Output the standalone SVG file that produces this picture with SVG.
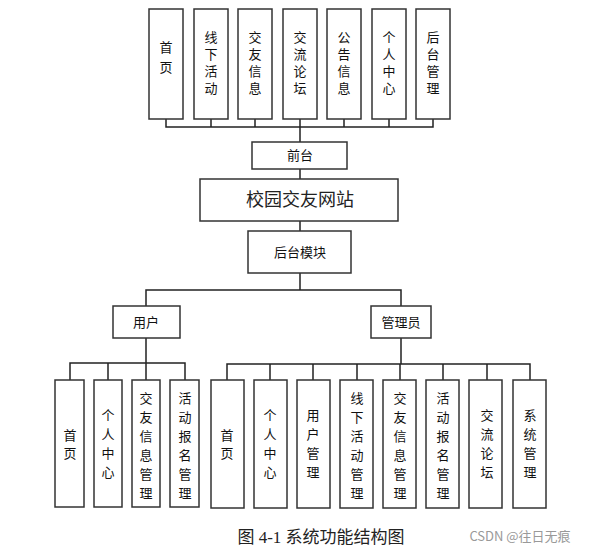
<svg xmlns="http://www.w3.org/2000/svg" width="611" height="551" viewBox="0 0 611 551">
<style>
.b{fill:#fff;stroke:#333;stroke-width:1.5}
.t{font-family:"Noto Sans CJK SC",sans-serif;font-size:13px;fill:#111;text-anchor:middle}
.c{stroke:#222;stroke-width:1.5;fill:none}
</style>
<rect width="611" height="551" fill="#fff"/>
<g id="connectors" class="c">
<path d="M166 119V127H433V119M211 119V127M255 119V127M300 119V142M344 119V127M389 119V127"/>
<path d="M300 169V179M300 221V231M300 273V290M146 306V290H401V306"/>
<path d="M146 338V363M70 380V363H185V380M108 363V380M146 363V380"/>
<path d="M401 338V364M227 380V364H530V380M270 364V380M313 364V380M357 364V380M400 364V380M443 364V380M487 364V380"/>
</g>
<g id="top">
<rect class="b" x="149" y="9" width="34" height="110"/><text class="t" x="166" y="52">首</text><text class="t" x="166" y="72">页</text>
<rect class="b" x="194" y="9" width="34" height="110"/><text class="t" x="211" y="42">线</text><text class="t" x="211" y="59">下</text><text class="t" x="211" y="76">活</text><text class="t" x="211" y="93">动</text>
<rect class="b" x="238" y="9" width="34" height="110"/><text class="t" x="255" y="42">交</text><text class="t" x="255" y="59">友</text><text class="t" x="255" y="76">信</text><text class="t" x="255" y="93">息</text>
<rect class="b" x="283" y="9" width="34" height="110"/><text class="t" x="300" y="42">交</text><text class="t" x="300" y="59">流</text><text class="t" x="300" y="76">论</text><text class="t" x="300" y="93">坛</text>
<rect class="b" x="327" y="9" width="34" height="110"/><text class="t" x="344" y="42">公</text><text class="t" x="344" y="59">告</text><text class="t" x="344" y="76">信</text><text class="t" x="344" y="93">息</text>
<rect class="b" x="372" y="9" width="34" height="110"/><text class="t" x="389" y="42">个</text><text class="t" x="389" y="59">人</text><text class="t" x="389" y="76">中</text><text class="t" x="389" y="93">心</text>
<rect class="b" x="416" y="9" width="34" height="110"/><text class="t" x="433" y="42">后</text><text class="t" x="433" y="59">台</text><text class="t" x="433" y="76">管</text><text class="t" x="433" y="93">理</text>
</g>
<g id="qiantai"><rect class="b" x="252" y="142" width="95" height="27"/><text class="t" x="300" y="160">前台</text></g>
<g id="site"><rect class="b" x="200" y="179" width="198" height="42"/><text x="300" y="206" text-anchor="middle" font-family="Liberation Serif,'Noto Sans CJK SC',serif" font-size="18" fill="#222">校园交友网站</text></g>
<g id="houtai"><rect class="b" x="248" y="231" width="103" height="42"/><text class="t" x="300" y="257">后台模块</text></g>
<g id="user"><rect class="b" x="113" y="306" width="67" height="32"/><text class="t" x="146" y="327">用户</text></g>
<g id="admin"><rect class="b" x="371" y="306" width="60" height="32"/><text class="t" x="401" y="327">管理员</text></g>
<g id="userkids">
<rect class="b" x="55" y="380" width="29" height="127"/><text class="t" x="70" y="440">首</text><text class="t" x="70" y="458">页</text>
<rect class="b" x="94" y="380" width="28" height="127"/><text class="t" x="108" y="420">个</text><text class="t" x="108" y="439">人</text><text class="t" x="108" y="458">中</text><text class="t" x="108" y="477">心</text>
<rect class="b" x="132" y="380" width="28" height="127"/><text class="t" x="146" y="403">交</text><text class="t" x="146" y="422">友</text><text class="t" x="146" y="441">信</text><text class="t" x="146" y="460">息</text><text class="t" x="146" y="479">管</text><text class="t" x="146" y="498">理</text>
<rect class="b" x="170" y="380" width="29" height="127"/><text class="t" x="185" y="403">活</text><text class="t" x="185" y="422">动</text><text class="t" x="185" y="441">报</text><text class="t" x="185" y="460">名</text><text class="t" x="185" y="479">管</text><text class="t" x="185" y="498">理</text>
</g>
<g id="adminkids">
<rect class="b" x="211" y="380" width="33" height="128"/><text class="t" x="227" y="440">首</text><text class="t" x="227" y="458">页</text>
<rect class="b" x="254" y="380" width="33" height="128"/><text class="t" x="270" y="420">个</text><text class="t" x="270" y="439">人</text><text class="t" x="270" y="458">中</text><text class="t" x="270" y="477">心</text>
<rect class="b" x="297" y="380" width="33" height="128"/><text class="t" x="313" y="420">用</text><text class="t" x="313" y="439">户</text><text class="t" x="313" y="458">管</text><text class="t" x="313" y="477">理</text>
<rect class="b" x="340" y="380" width="33" height="128"/><text class="t" x="357" y="403">线</text><text class="t" x="357" y="422">下</text><text class="t" x="357" y="441">活</text><text class="t" x="357" y="460">动</text><text class="t" x="357" y="479">管</text><text class="t" x="357" y="498">理</text>
<rect class="b" x="383" y="380" width="33" height="128"/><text class="t" x="400" y="403">交</text><text class="t" x="400" y="422">友</text><text class="t" x="400" y="441">信</text><text class="t" x="400" y="460">息</text><text class="t" x="400" y="479">管</text><text class="t" x="400" y="498">理</text>
<rect class="b" x="426" y="380" width="33" height="128"/><text class="t" x="443" y="403">活</text><text class="t" x="443" y="422">动</text><text class="t" x="443" y="441">报</text><text class="t" x="443" y="460">名</text><text class="t" x="443" y="479">管</text><text class="t" x="443" y="498">理</text>
<rect class="b" x="469" y="380" width="33" height="128"/><text class="t" x="487" y="420">交</text><text class="t" x="487" y="439">流</text><text class="t" x="487" y="458">论</text><text class="t" x="487" y="477">坛</text>
<rect class="b" x="513" y="380" width="33" height="128"/><text class="t" x="530" y="420">系</text><text class="t" x="530" y="439">统</text><text class="t" x="530" y="458">管</text><text class="t" x="530" y="477">理</text>
</g>
<text x="321" y="543" text-anchor="middle" font-family="Liberation Serif,'Noto Sans CJK SC',serif" font-size="17" fill="#222">图 4-1 系统功能结构图</text>
<text x="520" y="541" text-anchor="middle" font-family="'Noto Sans CJK SC',sans-serif" font-size="13" fill="#999">CSDN @往日无痕</text>
</svg>
